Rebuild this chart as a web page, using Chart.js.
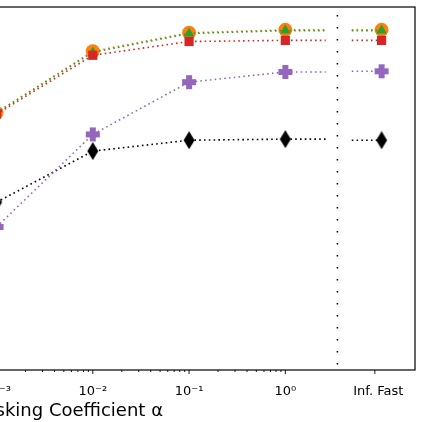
<!DOCTYPE html>
<html><head><meta charset="utf-8">
<script src="https://cdn.jsdelivr.net/npm/chart.js@4/dist/chart.umd.min.js"></script>
<style>html,body{margin:0;padding:0;overflow:hidden;width:422px;height:422px;background:#fff}
#wrap{position:absolute;left:-200px;top:0;width:622px;height:422px}</style>
</head><body><div id="wrap"><canvas id="c" width="622" height="422"></canvas></div>
<script>
// x positions in log10(alpha); "Inf. Fast" placed at 1.0
const logAlpha = [-3, -2, -1, 0];
const infX = 1.0;
const tickLabels = ["10⁻³", "10⁻²", "10⁻¹", "10⁰", "Inf. Fast"];
const orangeVals = [70.9, 87.8, 92.9, 93.7, 93.7];
const greenVals  = [70.9, 87.5, 92.7, 93.5, 93.5];
const redVals    = [70.5, 86.7, 90.5, 90.8, 90.8];
const purpleVals = [39.4, 64.9, 79.3, 82.1, 82.3];
const blackVals  = [46.2, 60.3, 63.3, 63.6, 63.3];

function mk(draw){const c=document.createElement('canvas');c.width=16;c.height=18;const g=c.getContext('2d');draw(g);return c;}
const plus = mk(g=>{g.fillStyle='#9467bd';g.fillRect(5,2,6,14);g.fillRect(1,6,14,6);});
const diamond = mk(g=>{g.fillStyle='#000';g.beginPath();g.moveTo(8,0);g.lineTo(13.5,9);g.lineTo(8,18);g.lineTo(2.5,9);g.closePath();g.fill();});

function pts(v){
  const d = logAlpha.map((x,i)=>({x, y:v[i]}));
  d.push({x:0.42,y:v[3],g:1}); d.push({x:0.55,y:null,g:1}); d.push({x:0.69,y:v[4],g:1});
  d.push({x:infX,y:v[4]});
  return d;
}
function ds(v,color,style,r){
  return {data:pts(v),borderColor:color,backgroundColor:color,borderWidth:1.6,borderDash:[1.6,3.2],
    pointStyle:style,pointBorderWidth:0,spanGaps:false,
    pointRadius:c=>c.raw&&c.raw.g?0:r, pointHoverRadius:0,tension:0};
}
const datasets=[
  ds(redVals,'#d62728','rect',6.5),
  ds(greenVals,'#2ca02c','triangle',6),
  ds(orangeVals,'#ff7f0e','circle',7),
  ds(purpleVals,'#9467bd',plus,7),
  ds(blackVals,'#000',diamond,7),
];
const vline=0.541;
const deco={id:'deco',
  beforeDatasetsDraw(ch){const {ctx,chartArea:a,scales:{x}}=ch;ctx.save();
    const px=x.getPixelForValue(vline);ctx.strokeStyle='#000';ctx.lineWidth=1.5;ctx.setLineDash([1.5,10.5]);
    ctx.beginPath();ctx.moveTo(px,a.top+8);ctx.lineTo(px,a.bottom);ctx.stroke();ctx.restore();},
  afterDraw(ch){const {ctx,chartArea:a,scales:{x}}=ch;ctx.save();
    ctx.strokeStyle='#000';ctx.lineWidth=1.2;ctx.strokeRect(a.left,a.top,a.right-a.left,a.bottom-a.top);
    ctx.lineWidth=0.9;ctx.beginPath();
    for(let n=-5;n<=0;n++){for(let k=1;k<10;k++){const v=n+Math.log10(k);if(v>0.3)continue;const p=x.getPixelForValue(v);
      if(p<a.left)continue;const L=k===1?4:2;ctx.moveTo(p,a.bottom);ctx.lineTo(p,a.bottom+L);}}
    const pi=x.getPixelForValue(0.93);ctx.moveTo(pi,a.bottom);ctx.lineTo(pi,a.bottom+4);
    ctx.stroke();
    ctx.fillStyle='#000';ctx.font='18px "DejaVu Sans"';ctx.textAlign='right';ctx.textBaseline='alphabetic';
    ctx.fillText('Masking Coefficient α',363,416);
    ctx.restore();}
};
new Chart(document.getElementById('c'),{type:'line',data:{datasets},
  options:{responsive:false,animation:false,events:[],
    layout:{padding:{top:1,right:3,left:0,bottom:0}},
    plugins:{legend:{display:false},tooltip:{enabled:false}},
    scales:{
      x:{type:'linear',min:-4.969,max:1.347,grid:{display:false},border:{display:false},
        afterBuildTicks(s){s.ticks=[{value:-3},{value:-2},{value:-1},{value:0},{value:0.965}];},
        afterFit(s){s.height=52;},
        ticks:{autoSkip:false,maxRotation:0,padding:6,color:'#000',font:{family:'DejaVu Sans',size:13},
          callback:(v)=>({'-3':tickLabels[0],'-2':tickLabels[1],'-1':tickLabels[2],'0':tickLabels[3]}[String(v)]??tickLabels[4])}},
      y:{display:false,min:0,max:100}
    }},plugins:[deco]});
</script></body></html>
